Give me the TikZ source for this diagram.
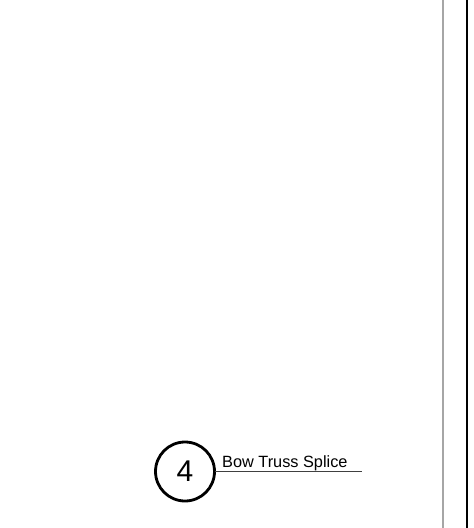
\documentclass[tikz,border=0pt]{standalone}
\usepackage{fontspec}
\setmainfont{Liberation Sans}

\begin{document}
\begin{tikzpicture}[x=1pt,y=-1pt]
	\useasboundingbox (0,0) rectangle (474,528);
	\draw[gray!70,line width=1.5] (443,0) -- (443,528);
	\draw[black,line width=2] (466.5,0) -- (466.5,528);
	\node[draw,circle,line width=2.8,inner sep=0,outer sep=0,minimum size=59,font=\fontsize{30}{30}\selectfont] (num) at (185,471.5) {4};
	\node[anchor=base west,inner sep=0,font=\fontsize{16.3}{16.3}\selectfont] (title) at (222,467) {Bow Truss Splice};
	\coordinate (lineend) at (362,471.5);
	\draw[gray!50!black,line width=1] (num.east) -- (lineend);
\end{tikzpicture}
\end{document}
